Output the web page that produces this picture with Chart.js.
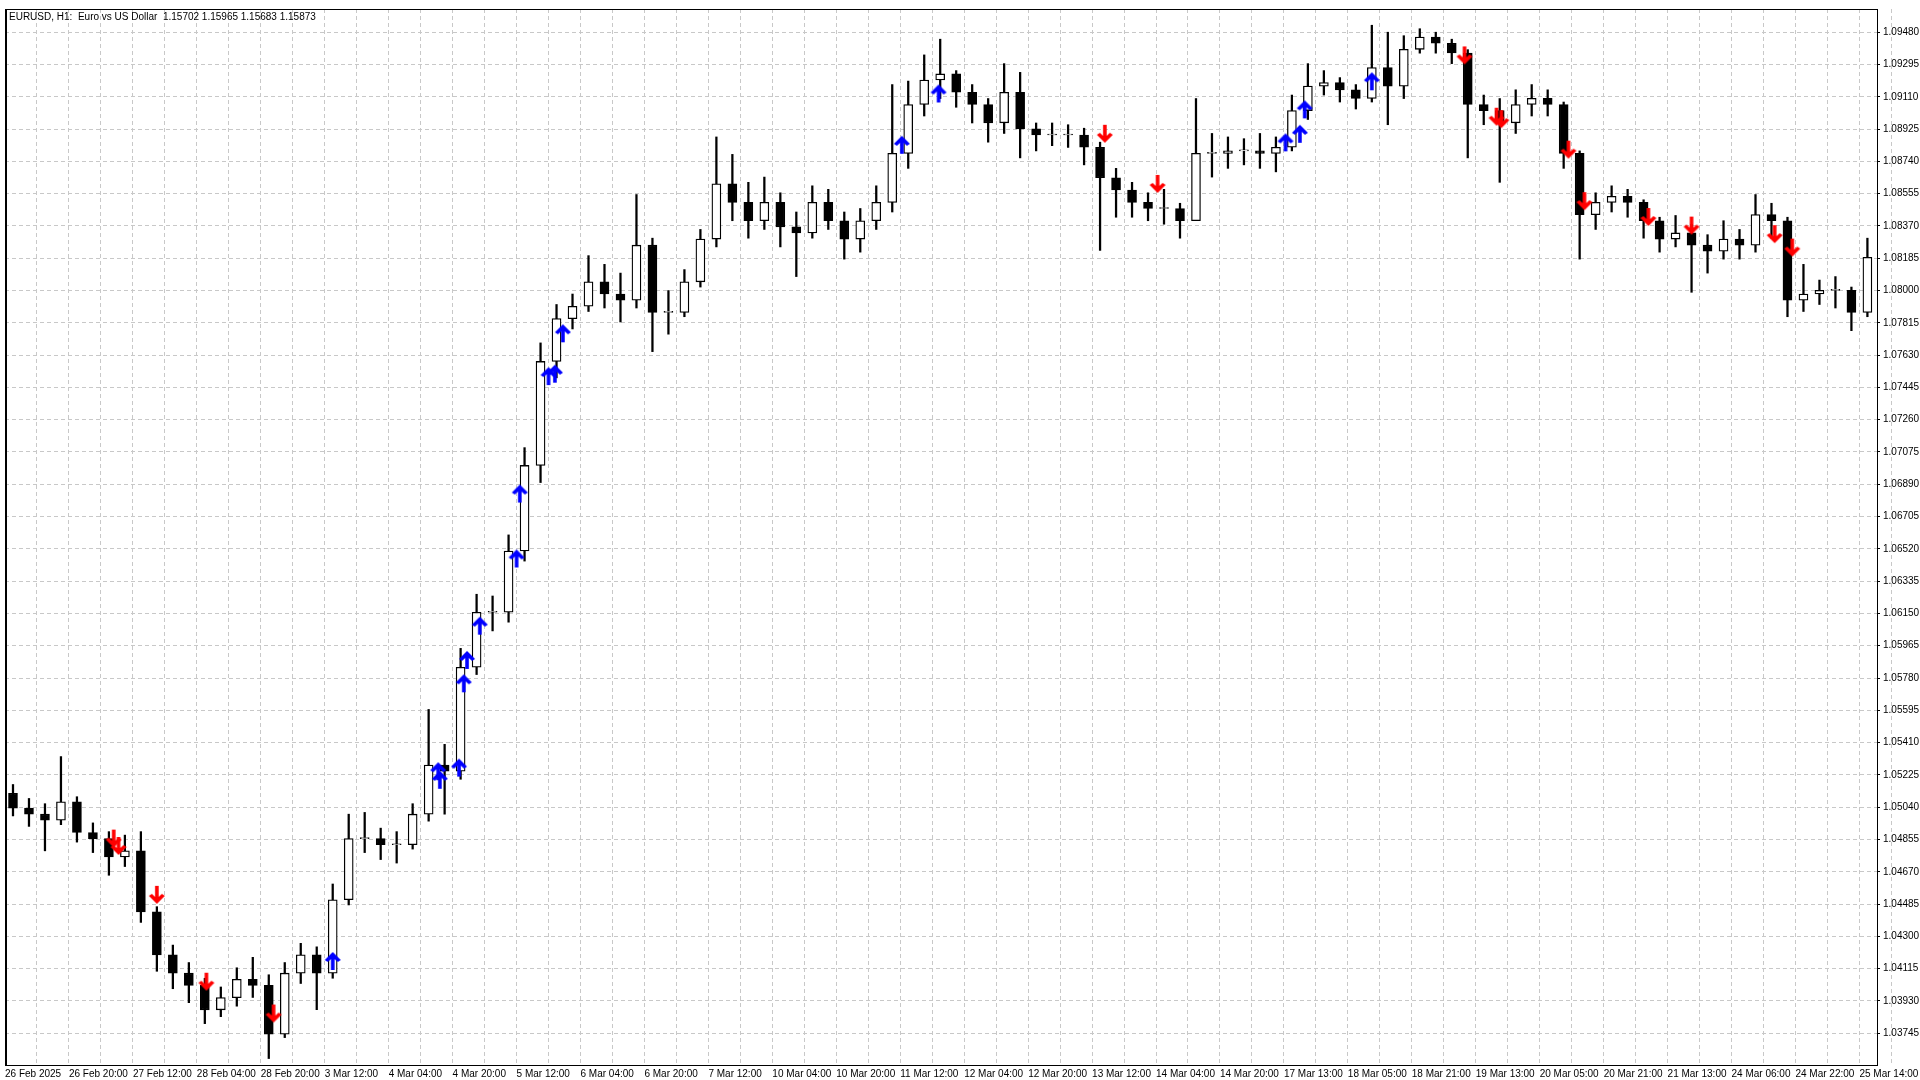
<!DOCTYPE html>
<html>
<head>
<meta charset="utf-8">
<script src="https://cdn.jsdelivr.net/npm/chart.js@4/dist/chart.umd.min.js"></script>
<style>
  html, body { margin: 0; padding: 0; background: #fff; }
  #wrap { width: 1920px; height: 1080px; position: relative; }
</style>
</head>
<body>
<div id="wrap"><canvas id="chart" width="1920" height="1080"></canvas></div>
<script>
// 4-hour candles, open = previous close
const firstOpen = 1.05120;
const closes = [1.05035,1.05000,1.04965,1.05071,1.04895,1.04860,1.04755,1.04790,1.04440,1.04194,
  1.04089,1.04019,1.03879,1.03949,1.04054,1.04019,1.03739,1.04089,1.04194,1.04089,
  1.04510,1.04860,1.04860,1.04825,1.04825,1.05000,1.05281,1.05246,1.05842,1.06157,
  1.06157,1.06508,1.06998,1.07594,1.07839,1.07910,1.08050,1.07980,1.07945,1.08260,
  1.07875,1.07875,1.08050,1.08295,1.08611,1.08505,1.08400,1.08505,1.08365,1.08330,
  1.08505,1.08400,1.08295,1.08400,1.08505,1.08786,1.09066,1.09206,1.09241,1.09136,
  1.09066,1.08961,1.09136,1.08926,1.08891,1.08891,1.08891,1.08821,1.08646,1.08576,
  1.08505,1.08470,1.08470,1.08400,1.08786,1.08786,1.08800,1.08800,1.08786,1.08821,
  1.09031,1.09171,1.09192,1.09150,1.09101,1.09277,1.09171,1.09382,1.09452,1.09417,
  1.09361,1.09066,1.09031,1.08961,1.09066,1.09101,1.09066,1.08786,1.08435,1.08505,
  1.08540,1.08505,1.08400,1.08295,1.08330,1.08260,1.08225,1.08295,1.08260,1.08435,
  1.08400,1.07945,1.07980,1.08001,1.08001,1.07875,1.08190];
const highs = [1.05170,1.05090,1.05060,1.05330,1.05100,1.04950,1.04900,1.04880,1.04900,1.04470,
  1.04250,1.04150,1.04060,1.04010,1.04120,1.04180,1.04080,1.04150,1.04260,1.04240,
  1.04600,1.05000,1.05010,1.04920,1.04900,1.05060,1.05600,1.05400,1.05950,1.06260,
  1.06250,1.06600,1.07100,1.07700,1.07920,1.07980,1.08200,1.08150,1.08100,1.08550,
  1.08300,1.08000,1.08120,1.08350,1.08880,1.08780,1.08620,1.08650,1.08560,1.08450,
  1.08600,1.08580,1.08450,1.08470,1.08600,1.09180,1.09200,1.09350,1.09440,1.09260,
  1.09180,1.09100,1.09300,1.09250,1.08960,1.08960,1.08950,1.08930,1.08850,1.08700,
  1.08620,1.08560,1.08580,1.08500,1.09100,1.08900,1.08880,1.08870,1.08900,1.08880,
  1.09120,1.09300,1.09260,1.09220,1.09180,1.09520,1.09480,1.09460,1.09500,1.09480,
  1.09440,1.09380,1.09120,1.09100,1.09150,1.09180,1.09150,1.09080,1.08800,1.08560,
  1.08600,1.08580,1.08520,1.08420,1.08430,1.08380,1.08320,1.08400,1.08350,1.08550,
  1.08500,1.08420,1.08150,1.08060,1.08080,1.08020,1.08300];
const lows = [1.04990,1.04930,1.04790,1.04940,1.04840,1.04780,1.04650,1.04700,1.04380,1.04100,
  1.04000,1.03920,1.03800,1.03840,1.03900,1.03950,1.03600,1.03720,1.04030,1.03880,
  1.04060,1.04480,1.04780,1.04740,1.04720,1.04800,1.04960,1.05000,1.05200,1.05800,
  1.06050,1.06100,1.06450,1.06900,1.07500,1.07780,1.07880,1.07900,1.07820,1.07900,
  1.07650,1.07750,1.07850,1.08020,1.08250,1.08400,1.08300,1.08350,1.08250,1.08080,
  1.08300,1.08350,1.08180,1.08220,1.08350,1.08450,1.08700,1.09000,1.09100,1.09050,
  1.08960,1.08850,1.08900,1.08760,1.08800,1.08830,1.08820,1.08720,1.08230,1.08420,
  1.08420,1.08400,1.08380,1.08300,1.08420,1.08650,1.08700,1.08720,1.08700,1.08680,
  1.08800,1.08980,1.09120,1.09080,1.09040,1.09080,1.08950,1.09100,1.09360,1.09360,
  1.09300,1.08760,1.08950,1.08620,1.08900,1.09000,1.09000,1.08700,1.08180,1.08350,
  1.08450,1.08420,1.08300,1.08220,1.08250,1.07990,1.08100,1.08180,1.08180,1.08220,
  1.08300,1.07850,1.07880,1.07920,1.07900,1.07770,1.07850];

// one time label every 4 candles (16 hours)
const timeLabels = ['26 Feb 2025','26 Feb 20:00','27 Feb 12:00','28 Feb 04:00','28 Feb 20:00',
  '3 Mar 12:00','4 Mar 04:00','4 Mar 20:00','5 Mar 12:00','6 Mar 04:00','6 Mar 20:00',
  '7 Mar 12:00','10 Mar 04:00','10 Mar 20:00','11 Mar 12:00','12 Mar 04:00','12 Mar 20:00',
  '13 Mar 12:00','14 Mar 04:00','14 Mar 20:00','17 Mar 13:00','18 Mar 05:00','18 Mar 21:00',
  '19 Mar 13:00','20 Mar 05:00','20 Mar 21:00','21 Mar 13:00','24 Mar 06:00','24 Mar 22:00',
  '25 Mar 14:00'];

const priceTicks = [1.03745,1.03930,1.04115,1.04300,1.04485,1.04670,1.04855,1.05040,1.05225,
  1.05410,1.05595,1.05780,1.05965,1.06150,1.06335,1.06520,1.06705,1.06890,1.07075,1.07260,
  1.07445,1.07630,1.07815,1.08000,1.08185,1.08370,1.08555,1.08740,1.08925,1.09110,1.09295,1.09480];

// signal arrows: candle position and price
const buyX = [20.0,26.6,26.7,27.9,28.2,28.4,29.2,31.5,31.7,33.5,33.9,34.4,55.6,57.9,79.6,80.5,80.8,85.0];
const buyY = [1.04159,1.05246,1.05197,1.05267,1.05750,1.05884,1.06080,1.06465,1.06837,1.07510,
  1.07524,1.07755,1.08835,1.09129,1.08849,1.08898,1.09038,1.09199];
const sellX = [6.3,6.6,9.0,12.1,16.3,68.3,71.6,90.8,92.8,93.1,97.3,98.3,102.3,105.0,110.2,111.3];
const sellY = [1.04860,1.04818,1.04538,1.04040,1.03858,1.08898,1.08611,1.09347,1.08996,1.08982,
  1.08807,1.08512,1.08421,1.08372,1.08323,1.08246];

const opens = closes.map((c, i) => i === 0 ? firstOpen : closes[i - 1]);

function arrowIcon(color, up) {
  const c = document.createElement('canvas');
  c.width = 18; c.height = 20;
  const g = c.getContext('2d');
  g.fillStyle = color;
  g.beginPath();
  if (up) {
    g.moveTo(9, 1); g.lineTo(17, 9); g.lineTo(14, 11); g.lineTo(10.8, 8);
    g.lineTo(10.8, 19); g.lineTo(7.2, 19); g.lineTo(7.2, 8); g.lineTo(4, 11); g.lineTo(1, 9);
  } else {
    g.moveTo(9, 19); g.lineTo(17, 11); g.lineTo(14, 9); g.lineTo(10.8, 12);
    g.lineTo(10.8, 1); g.lineTo(7.2, 1); g.lineTo(7.2, 12); g.lineTo(4, 9); g.lineTo(1, 11);
  }
  g.closePath();
  g.fill();
  return c;
}

const frame = {
  id: 'frame',
  afterDraw(chart) {
    const { ctx, chartArea: a } = chart;
    ctx.save();
    ctx.strokeStyle = '#000';
    ctx.lineWidth = 1;
    ctx.strokeRect(a.left + 0.5, a.top + 0.5, a.right - a.left, a.bottom - a.top);
    ctx.lineWidth = 2;
    ctx.beginPath();
    ctx.moveTo(a.left + 1, a.top);
    ctx.lineTo(a.left + 1, a.bottom);
    ctx.stroke();
    ctx.fillStyle = '#000';
    ctx.font = '10px "Liberation Sans", Arial, sans-serif';
    ctx.textBaseline = 'top';
    ctx.fillText('EURUSD, H1:  Euro vs US Dollar  1.15702 1.15965 1.15683 1.15873', a.left + 4, a.top + 3);
    ctx.restore();
  }
};

const gridColor = '#c8c8c8';
const tickFont = { family: '"Liberation Sans", Arial, sans-serif', size: 10 };

new Chart(document.getElementById('chart'), {
  type: 'bar',
  data: {
    datasets: [
      {
        label: 'wick',
        data: closes.map((c, i) => ({ x: i, y: [lows[i], highs[i]] })),
        backgroundColor: '#000',
        barThickness: 1.6,
        grouped: false,
        order: 2
      },
      {
        label: 'body',
        data: closes.map((c, i) => ({ x: i, y: [opens[i], c] })),
        backgroundColor: closes.map((c, i) => c >= opens[i] ? '#fff' : '#000'),
        borderColor: '#000',
        borderWidth: 1.3,
        borderSkipped: false,
        barThickness: 9,
        minBarLength: 1,
        grouped: false,
        order: 1
      },
      {
        type: 'scatter',
        label: 'buy',
        data: buyX.map((x, i) => ({ x, y: buyY[i] })),
        pointStyle: arrowIcon('#0000ff', true),
        order: 0
      },
      {
        type: 'scatter',
        label: 'sell',
        data: sellX.map((x, i) => ({ x, y: sellY[i] })),
        pointStyle: arrowIcon('#ff0000', false),
        order: 0
      }
    ]
  },
  options: {
    responsive: false,
    animation: false,
    layout: { padding: { left: 3, top: 0, right: 0, bottom: 0 } },
    plugins: { legend: { display: false }, tooltip: { enabled: false } },
    scales: {
      x: {
        type: 'linear',
        offset: false,
        min: -0.5,
        max: 116.6,
        afterBuildTicks(axis) {
          const t = [];
          for (let k = 0; k < timeLabels.length * 2; k++) t.push({ value: k * 2 - 0.5 });
          axis.ticks = t;
        },
        afterFit(axis) { axis.height = 15; },
        grid: { color: gridColor, lineWidth: 1, drawTicks: false, offset: false },
        border: { display: false, dash: [4, 3] },
        ticks: {
          autoSkip: false,
          maxRotation: 0,
          align: 'start',
          padding: 3,
          color: '#000',
          font: tickFont,
          callback: (v) => {
            const k = Math.round(v + 0.5);
            return k % 4 === 0 ? (timeLabels[k / 4] || '') : '';
          }
        }
      },
      y: {
        position: 'right',
        min: 1.03563,
        max: 1.09613,
        afterBuildTicks(axis) {
          axis.ticks = priceTicks.map(v => ({ value: v }));
        },
        afterFit(axis) { axis.width = 43; },
        grid: { color: gridColor, lineWidth: 1, drawTicks: true, tickLength: 3, tickColor: '#000' },
        border: { display: false, dash: [4, 3] },
        ticks: {
          autoSkip: false,
          padding: 3,
          color: '#000',
          font: tickFont,
          callback: (v) => v.toFixed(5)
        }
      }
    }
  },
  plugins: [frame]
});
</script>
</body>
</html>
